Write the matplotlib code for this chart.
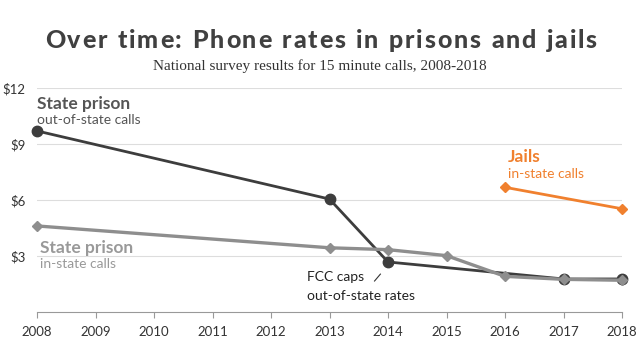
import matplotlib.pyplot as plt
import numpy as np

# === Data (dollars per 15 minute call) ===
out_years = [2008, 2013, 2014, 2017, 2018]
out_state = [9.70, 6.05, 2.68, 1.77, 1.77]

in_years = [2008, 2013, 2014, 2015, 2016, 2017, 2018]
in_state = [4.61, 3.44, 3.34, 3.02, 1.91, 1.75, 1.70]

jail_years = [2016, 2018]
jail_in_state = [6.68, 5.53]

years = list(range(2008, 2019))
yticks = [3, 6, 9, 12]

TITLE = "Over time: Phone rates in prisons and jails"
SUBTITLE = "National survey results for 15 minute calls, 2008-2018"

DARK = "#3d3d3d"
GRAY = "#8e8e8e"
ORANGE = "#f0802e"

plt.rcParams["font.family"] = ["Lato", "DejaVu Sans"]

fig = plt.figure(figsize=(6.4, 3.57), dpi=100)
ax = fig.add_axes([37/640, 1 - 312/357, 585/640, 224/357])

ax.plot(in_years, in_state, color=GRAY, lw=2.4, marker="D", ms=5.5,
        clip_on=False, zorder=3)
ax.plot(out_years, out_state, color=DARK, lw=2.0, marker="o", ms=7.5,
        clip_on=False, zorder=2)
ax.plot(jail_years, jail_in_state, color=ORANGE, lw=2.0, marker="D", ms=5.5,
        clip_on=False, zorder=3)

# === Axes styling ===
ax.set_xlim(2008, 2018)
ax.set_ylim(0, 12)
ax.set_xticks(years)
ax.set_xticklabels([str(y) for y in years], fontsize=9.5, color="#333333")
ax.set_yticks(yticks)
ax.set_yticklabels([f"${v}" for v in yticks], fontsize=9.5, color="#333333")
ax.tick_params(axis="y", length=0, pad=8)
ax.tick_params(axis="x", length=4, color="#999999", pad=6)
ax.grid(axis="y", color="#dddddd", lw=0.8)
ax.set_axisbelow(True)
for s in ["top", "right", "left"]:
    ax.spines[s].set_visible(False)
ax.spines["bottom"].set_color("#999999")

# === Series labels ===
ax.text(2008, 11.15, "State prison", fontsize=12.5, fontweight="bold",
        color="#555555", va="center")
ax.text(2008, 10.3, "out-of-state calls", fontsize=10, color="#555555",
        va="center")
ax.text(2008.05, 3.45, "State prison", fontsize=12.5, fontweight="bold",
        color="#999999", va="center")
ax.text(2008.05, 2.55, "in-state calls", fontsize=10, color="#999999",
        va="center")
ax.text(2016.05, 8.3, "Jails", fontsize=12.5, fontweight="bold",
        color=ORANGE, va="center")
ax.text(2016.05, 7.4, "in-state calls", fontsize=10, color=ORANGE, va="center")

# FCC annotation
ax.text(2012.62, 1.87, "FCC caps", fontsize=10, color="#222222", va="center")
ax.text(2012.62, 0.86, "out-of-state rates", fontsize=10, color="#222222",
        va="center")
ax.plot([2013.77, 2013.87], [1.66, 2.03], color="#333333", lw=0.8)

# === Title (letter-spaced, drawn char by char) ===
renderer = fig.canvas.get_renderer()
tprops = dict(fontsize=18, fontweight="black", color="#404040",
              family=["Lato", "DejaVu Sans"], va="center", ha="left")
widths = []
for ch in TITLE:
    t = fig.text(0, 0, ch if ch != " " else "n", **tprops)
    w = t.get_window_extent(renderer).width
    widths.append(w * (0.5 if ch == " " else 1.0))
    t.remove()
left_px, right_px = 45, 597
spacing = (right_px - left_px - sum(widths)) / (len(TITLE) - 1)
x = left_px
for ch, w in zip(TITLE, widths):
    if ch != " ":
        fig.text(x / 640, 1 - 40 / 357, ch, **tprops)
    x += w + spacing

fig.text(0.5, 1 - 66 / 357, SUBTITLE, ha="center", va="center", fontsize=11,
         color="#333333", family=["Liberation Serif"])

fig.savefig("out.png", dpi=100)
